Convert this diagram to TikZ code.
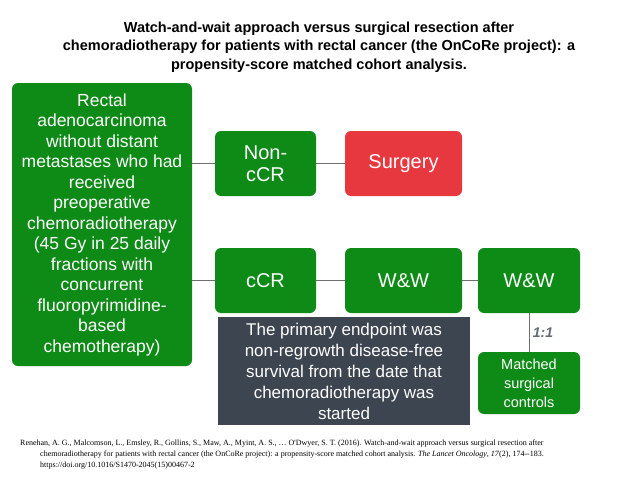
\documentclass[tikz,border=0pt]{standalone}
\usepackage{fontspec}
\setmainfont{Liberation Sans}
\newfontfamily\refserif{Liberation Serif}
\definecolor{wwgreen}{HTML}{0E8A16}
\definecolor{wwred}{HTML}{E8383F}
\definecolor{wwslate}{HTML}{3D4551}
\definecolor{wwline}{HTML}{6E6E6E}
\usetikzlibrary{positioning}

\begin{document}
\begin{tikzpicture}[x=1pt,y=-1pt,
  box/.style={fill=#1, rounded corners=6pt, text=white, align=center,
    inner sep=2pt, font=\fontsize{20}{22}\selectfont},
  link/.style={draw=wwline, line width=1pt}
]
  \useasboundingbox (0,0) rectangle (638,479);
  % Title
  \node[font=\bfseries\fontsize{14.5}{18.5}\selectfont, align=center] (title) at (319,47)
    {Watch-and-wait approach versus surgical resection after\\
     chemoradiotherapy for patients with rectal cancer (the OnCoRe project): a\\
     propensity-score matched cohort analysis.};

  % Boxes
  \node[box=wwgreen, minimum width=180, minimum height=283,
    font=\fontsize{17.5}{20.5}\selectfont] (rectal) at (102,224.5)
    {Rectal\\adenocarcinoma\\without distant\\metastases who had\\received\\preoperative\\
     chemoradiotherapy\\(45 Gy in 25 daily\\fractions with\\concurrent\\fluoropyrimidine-\\
     based\\chemotherapy)};
  \node[box=wwgreen, minimum width=101, minimum height=65] (noncr) at (265.5,163.5) {Non-\\cCR};
  \node[box=wwred, minimum width=117, minimum height=65] (surgery) at (403.5,163.5) {Surgery};
  \node[box=wwgreen, minimum width=101, minimum height=65] (ccr) at (265.5,280.5) {cCR};
  \node[box=wwgreen, minimum width=117, minimum height=65] (ww) at (403.5,280.5) {W\&W};
  \node[box=wwgreen, minimum width=102, minimum height=62,
    font=\fontsize{14.5}{19}\selectfont] (matched) at (529,383) {Matched\\surgical\\controls};
  \node[box=wwgreen, minimum width=102, minimum height=65] (wwb) at (529,280.5) {W\&W};
  \node[box=wwslate, rounded corners=0pt, minimum width=252, minimum height=108,
    font=\fontsize{17}{21}\selectfont] (endpoint) at (344,371)
    {The primary endpoint was\\non-regrowth disease-free\\survival from the date that\\
     chemoradiotherapy was\\started};

  % Connectors
  \draw[link] (rectal.east |- noncr.west) -- (noncr.west);
  \draw[link] (noncr) -- (surgery);
  \draw[link] (rectal.east |- ccr.west) -- (ccr.west);
  \draw[link] (ccr) -- (ww);
  \draw[link] (ww) -- (wwb);
  \draw[link] (wwb) -- node[right, font=\bfseries\itshape\fontsize{14}{16}\selectfont, text=wwslate!80] {1:1} (matched);

  % Reference
  \node[anchor=north west, font=\refserif\fontsize{8}{11}\selectfont,
    align=left, inner sep=0pt] (citation) at (20,440)
    {Renehan, A. G., Malcomson, L., Emsley, R., Gollins, S., Maw, A., Myint, A. S., \dots\ O'Dwyer, S. T. (2016). Watch-and-wait approach versus surgical resection after\\
     \hspace*{20pt}chemoradiotherapy for patients with rectal cancer (the OnCoRe project): a propensity-score matched cohort analysis. \textit{The Lancet Oncology}, \textit{17}(2), 174--183.\\
     \hspace*{20pt}https://doi.org/10.1016/S1470-2045(15)00467-2};
\end{tikzpicture}
\end{document}
